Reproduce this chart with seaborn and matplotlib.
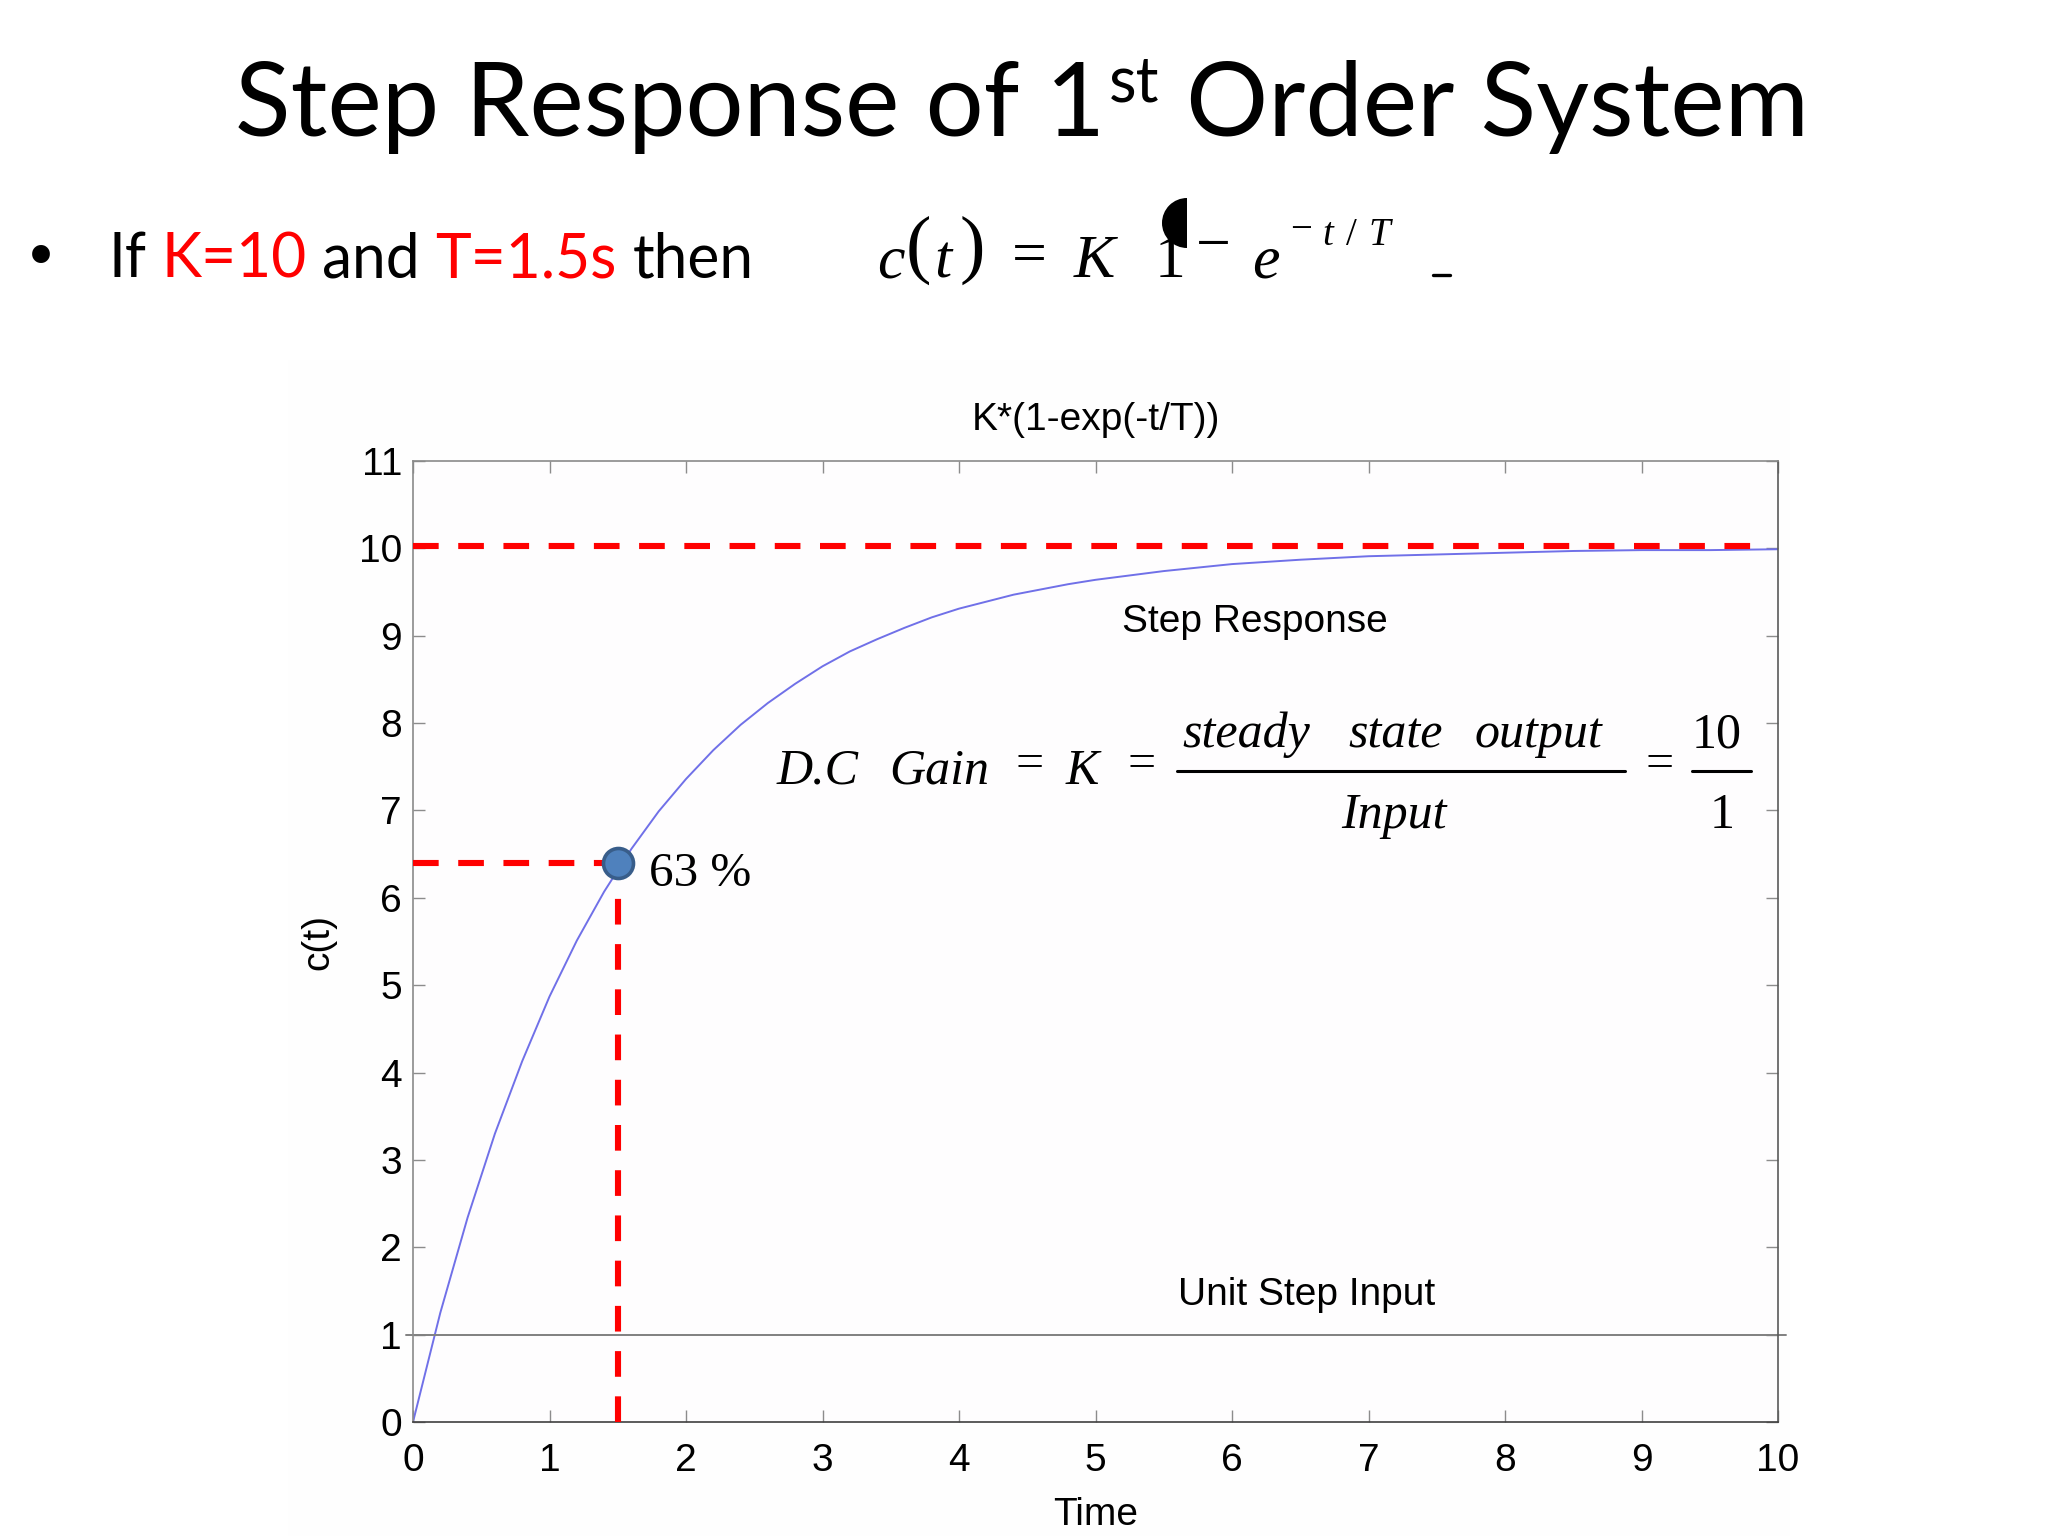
import matplotlib
matplotlib.use('Agg')
import matplotlib.pyplot as plt
import seaborn as sns
from matplotlib.transforms import Affine2D
from matplotlib.patches import Wedge, Rectangle
from matplotlib.lines import Line2D

# ---------------- data ----------------
time_s = [0.0, 0.2, 0.4, 0.6, 0.8, 1.0, 1.2, 1.4, 1.6, 1.8, 2.0, 2.2, 2.4, 2.6,
          2.8, 3.0, 3.2, 3.4, 3.6, 3.8, 4.0, 4.2, 4.4, 4.6, 4.8, 5.0, 5.5, 6.0,
          6.5, 7.0, 7.5, 8.0, 8.5, 9.0, 9.5, 10.0]
response = [0.00, 1.25, 2.34, 3.30, 4.13, 4.87, 5.51, 6.07, 6.56, 6.99, 7.36,
            7.69, 7.98, 8.23, 8.45, 8.65, 8.82, 8.96, 9.09, 9.21, 9.31, 9.39,
            9.47, 9.53, 9.59, 9.64, 9.74, 9.82, 9.87, 9.91, 9.93, 9.95, 9.97,
            9.98, 9.98, 9.99]
unit_step_time = [-0.05, 10.06]
unit_step_value = [1, 1]
steady_state = 10.03
steady_line_end = 9.92
tau = 1.5
c_at_tau = 6.4
x_ticks = [0, 1, 2, 3, 4, 5, 6, 7, 8, 9, 10]
y_ticks = [0, 1, 2, 3, 4, 5, 6, 7, 8, 9, 10, 11]

# ---------------- setup ----------------
sns.set_theme(style='white')
plt.rcParams['font.family'] = ['Liberation Sans', 'DejaVu Sans']
plt.rcParams['lines.scale_dashes'] = True

W, H = 2048, 1536
fig = plt.figure(figsize=(10.24, 7.68), dpi=200)
fig.patch.set_facecolor('white')
pix = Affine2D().scale(1.0 / W, -1.0 / H).translate(0, 1) + fig.transFigure
renderer = fig.canvas.get_renderer()

SLIDE = ['Lato', 'DejaVu Sans']
SERIF = ['Liberation Serif', 'DejaVu Serif']

# faint panel behind the plot
fig.add_artist(Rectangle((288, 360), 1502, 1176, transform=pix,
                         facecolor='#fefefe', edgecolor='none', zorder=0))


def width_of(t):
    return t.get_window_extent(renderer).width


def space_width(size, family):
    a = fig.text(0, 0, 'x x', fontsize=size, family=family)
    b = fig.text(0, 0, 'xx', fontsize=size, family=family)
    w = width_of(a) - width_of(b)
    a.remove(); b.remove()
    return w


def run(pieces, x0, base, size, family):
    """pieces: (text, color, dy, size_factor, gap_before_in_spaces)"""
    sp = space_width(size, family)
    x = x0
    arts = []
    for s, color, dy, sf, gap in pieces:
        x += gap * sp
        t = fig.text(x, base + dy, s, transform=pix, fontsize=size * sf,
                     color=color, family=family, ha='left', va='baseline')
        arts.append(t)
        x += width_of(t)
    return arts, x


def fitted_run(pieces, x0, x1, base, size, family):
    arts, xe = run(pieces, x0, base, size, family)
    scale = (x1 - x0) / (xe - x0)
    for a in arts:
        a.remove()
    arts, xe = run(pieces, x0, base, size * scale, family)
    return arts


# ---------------- slide title ----------------
fitted_run([('Step Response of 1', 'black', 0, 1.0, 0),
            ('st', 'black', -34, 0.62, 0.15),
            ('Order System', 'black', 0, 1.0, 1.0)],
           235, 1809, 136, 40, SLIDE)

# ---------------- bullet line ----------------
fig.text(41, 277, '\u2022', transform=pix, fontsize=22, family=['DejaVu Sans'],
         ha='center', va='baseline', color='black')
fitted_run([('If', 'black', 0, 1.0, 0),
            ('K=10', '#ff0000', 0, 1.0, 1.0),
            ('and', 'black', 0, 1.0, 1.0),
            ('T=1.5s', '#ff0000', 0, 1.0, 1.0),
            ('then', 'black', 0, 1.0, 1.0)],
           108, 754, 277, 22, SLIDE)

# ---------------- top formula c(t) = K(1 - e^{-t/T}) ----------------
def ftxt(x, y, s, size, style='normal', ha='left'):
    fig.text(x, y, s, transform=pix, fontsize=size, family=SERIF, style=style,
             ha=ha, va='baseline', color='black')

ftxt(877, 277, 'c', 22.3, 'italic')
ftxt(906, 269, '(', 27.5)
ftxt(934, 277, 't', 22.3, 'italic')
ftxt(960, 269, ')', 27.5)
ftxt(1012, 273, '=', 22.3)
ftxt(1074, 277, 'K', 22.3, 'italic')
ftxt(1155, 277, '1', 22.3)
fig.add_artist(Wedge((0, 0), 1, 90, 270,
                     transform=Affine2D().scale(25, 25).translate(1187, 223) + pix,
                     facecolor='black', edgecolor='none'))
ftxt(1196, 263, '\u2212', 22.3)
ftxt(1252, 277, 'e', 22.3, 'italic')
ftxt(1290, 240, '\u2212', 14)
ftxt(1322, 245, 't', 14, 'italic')
ftxt(1346, 245, '/', 14)
ftxt(1368, 245, 'T', 14, 'italic')
fig.add_artist(Line2D([1433, 1450], [275, 275], transform=pix, lw=1.2, color='black'))

# ---------------- axes ----------------
ax = fig.add_axes([413 / W, 1 - 1422 / H, 1365 / W, 961 / H])
ax.set_facecolor('#fefdfe')

sns.lineplot(x=time_s, y=response, ax=ax, color='#7070e8', lw=0.7,
             estimator=None, sort=False, zorder=2)
ax.plot(unit_step_time, unit_step_value, color='#808080', lw=0.7, zorder=2,
        clip_on=False)
ax.plot([x_ticks[0], steady_line_end], [steady_state, steady_state], color='#ff0000',
        lw=2.2, dashes=(4.2, 3.2), zorder=3)
ax.plot([x_ticks[0], tau], [c_at_tau, c_at_tau], color='#ff0000', lw=2.2,
        dashes=(4.2, 3.2), zorder=3)
ax.plot([tau, tau], [y_ticks[0], c_at_tau], color='#ff0000', lw=2.2,
        dashes=(4.2, 3.2), zorder=3, clip_on=False)
sns.scatterplot(x=[tau], y=[c_at_tau], ax=ax, s=10.8 ** 2, color='#4f81bd',
                edgecolor='#385d8a', linewidth=1.3, zorder=6, clip_on=False)

ax.set_xlim(x_ticks[0], x_ticks[-1])
ax.set_ylim(y_ticks[0], y_ticks[-1])
ax.set_xticks(x_ticks)
ax.set_yticks(y_ticks)
ax.tick_params(axis='both', direction='in', length=4.3, width=0.5, color='#8c8c8c',
               labelsize=14, labelcolor='black', top=True, right=True,
               bottom=True, left=True)
ax.tick_params(axis='x', pad=7.5)
ax.tick_params(axis='y', pad=4)
for side, col in (('top', '#8a8a8a'), ('left', '#8a8a8a'),
                  ('bottom', '#404040'), ('right', '#5a5a5a')):
    ax.spines[side].set_visible(True)
    ax.spines[side].set_color(col)
    ax.spines[side].set_linewidth(0.6)

ax.set_title('K*(1-exp(-t/T))', fontsize=14, pad=11, color='black')
ax.set_xlabel('Time', fontsize=14, labelpad=6.5, color='black')
ax.set_ylabel('c(t)', fontsize=14, labelpad=8, color='black')

# ---------------- annotations ----------------
fig.text(1255, 632, 'Step Response', transform=pix, fontsize=14,
         ha='center', va='baseline', color='black')
fig.text(1307, 1305, 'Unit Step Input', transform=pix, fontsize=14,
         ha='center', va='baseline', color='black')
ftxt(649, 886, '63 %', 17.7)

# D.C Gain = K = steady state output / Input = 10 / 1
FS = 18
ftxt(777, 784, 'D.C', FS, 'italic')
ftxt(889, 784, 'Gain', FS, 'italic')
ftxt(1016, 777, '=', FS)
ftxt(1066, 784, 'K', FS, 'italic')
ftxt(1128, 777, '=', FS)
fig.add_artist(Line2D([1177, 1625], [771, 771], transform=pix, lw=1.1, color='black'))
ftxt(1182, 747, 'steady', FS, 'italic')
ftxt(1348, 747, 'state', FS, 'italic')
ftxt(1475, 747, 'output', FS, 'italic')
ftxt(1341, 828, 'Input', FS, 'italic')
ftxt(1645, 777, '=', FS)
ftxt(1692, 747, '10', FS)
fig.add_artist(Line2D([1692, 1751], [771, 771], transform=pix, lw=1.1, color='black'))
ftxt(1710, 828, '1', FS)

fig.savefig('out.png', dpi=200, facecolor='white')
